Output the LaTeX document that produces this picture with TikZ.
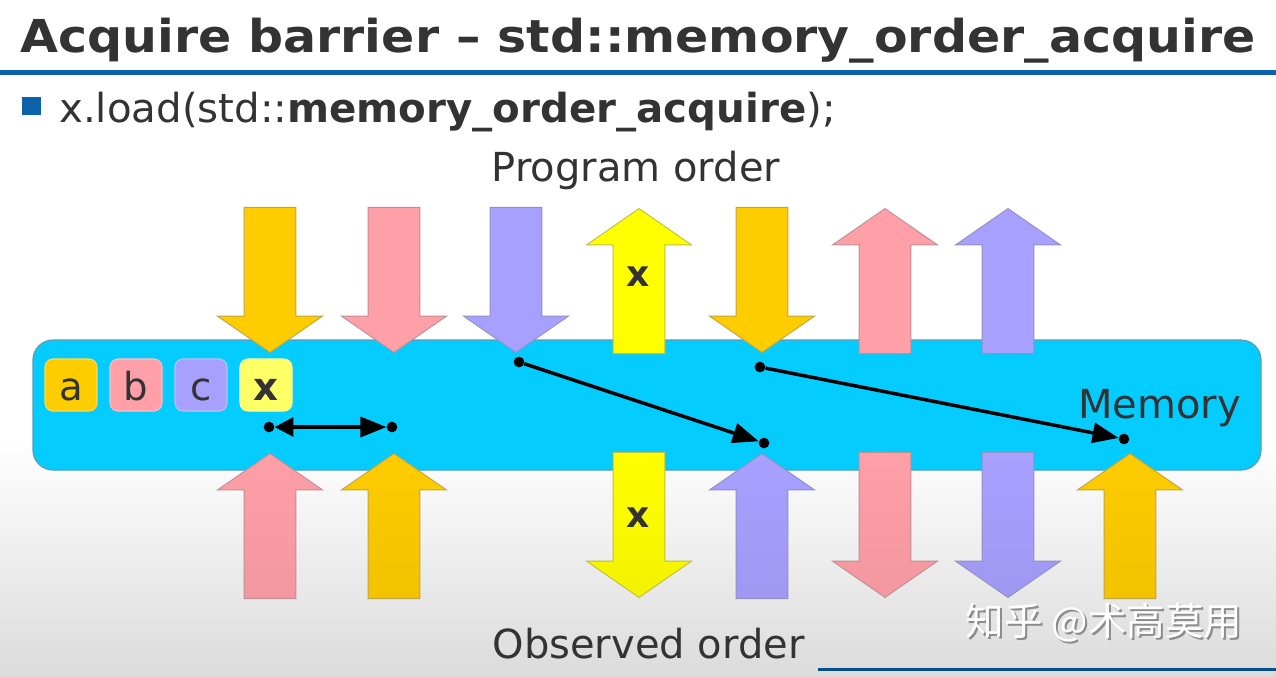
\documentclass[tikz,border=0pt]{standalone}
\usepackage{fontspec}
\setmainfont{DejaVu Sans}
\newfontfamily\cjkmark{Noto Sans CJK SC}
\usetikzlibrary{shapes.arrows,arrows.meta}
\definecolor{inkgrey}{HTML}{333333}
\definecolor{rulemain}{HTML}{0B62A8}
\definecolor{bandblue}{HTML}{04CCFF}
\definecolor{bandedge}{HTML}{5A9CB8}
\definecolor{amber}{HTML}{FFCC00}
\definecolor{rose}{HTML}{FF9FA8}
\definecolor{lilac}{HTML}{A8A0FF}
\definecolor{lemon}{HTML}{FFFF00}
\tikzset{
  barrow/.style={shape=single arrow,draw=#1!50!gray,line width=0.7pt,inner sep=19.1pt,
    minimum height=108.75pt,minimum width=78pt,single arrow head extend=19.9pt,
    single arrow head indent=0pt,single arrow tip angle=110.6,anchor=tip},
  downa/.style={barrow=#1,fill=#1,shape border rotate=270},
  upa/.style={barrow=#1,fill=#1,shape border rotate=90},
  fadedown/.style={barrow=#1,top color=#1,bottom color=#1!95!black,shape border rotate=270},
  fadeup/.style={barrow=#1,top color=#1,bottom color=#1!95!black,shape border rotate=90},
  varbox/.style={draw=#1!70!white,fill=#1,line width=0.8pt,rounded corners=6pt,
    minimum size=39pt,inner sep=0pt,text height=22.5pt,text depth=0pt,text=inkgrey,
    font=\fontsize{29pt}{29pt}\selectfont},
  dotmark/.style={circle,fill=black,inner sep=0pt,minimum size=8pt},
  order/.style={text=inkgrey,inner sep=0pt,font=\fontsize{30pt}{30pt}\selectfont},
  link/.style={line width=2.6pt,-{Triangle[length=19.5pt,width=15pt]}},
  xmark/.style={text=inkgrey,inner sep=0pt,font=\bfseries\fontsize{27pt}{27pt}\selectfont}
}
\begin{document}
\begin{tikzpicture}[x=0.75pt,y=-0.75pt]
  \useasboundingbox (0,0) rectangle (1276,676);
  % backdrop
  \fill[white] (0,0) rectangle (1276,676);
  \shade[top color=white,bottom color=black!14] (0,440) rectangle (1276,676);
  % heading
  \node[text=inkgrey,anchor=base west,inner sep=0pt,xscale=1.081,font=\bfseries\fontsize{34pt}{34pt}\selectfont] (title) at (20,52)
    {Acquire barrier – std::memory\_order\_acquire};
  \fill[rulemain] (0,69.5) rectangle (1276,75);
  \fill[rulemain] (22,97) rectangle (41,115);
  \node[text=inkgrey,anchor=base west,inner sep=0pt,xscale=1.008,font=\fontsize{30pt}{30pt}\selectfont] (call) at (59,122)
    {x.load(std::\textbf{memory\_order\_acquire});};
  \node[order,anchor=base] (program) at (636,181) {Program order};
  \node[order,anchor=base] (observed) at (648.5,658) {Observed order};
  \fill[rulemain!80!black] (818,668) rectangle (1276,670.5);
  % memory band
  \draw[draw=bandedge,fill=bandblue,line width=0.9pt,rounded corners=15pt] (33,340) rectangle (1261,470);
  \node[order,anchor=base east] (memory) at (1241,418) {Memory};
  \node[varbox=amber] (vara) at (71,385) {a};
  \node[varbox=rose] (varb) at (136,385) {b};
  \node[varbox=lilac] (varc) at (201,385) {c};
  \node[varbox=lemon!60!white] (varx) at (266,385) {\textbf{x}};
  % program order
  \node[downa=amber] (pa) at (270,353) {};
  \node[downa=rose] (pb) at (394,353) {};
  \node[downa=lilac] (pc) at (516,353) {};
  \node[upa=lemon] (px) at (639,208) {};
  \node[downa=amber] (pd) at (762,353) {};
  \node[upa=rose] (pe) at (885,208) {};
  \node[upa=lilac] (pf) at (1008,208) {};
  \node[xmark] (xtop) at (638,277) {x};
  % observed order
  \node[fadeup=rose] (oa) at (270,453) {};
  \node[fadeup=amber] (ob) at (394,453) {};
  \node[fadedown=lemon] (ox) at (639,598) {};
  \node[fadeup=lilac] (oc) at (762,453) {};
  \node[fadedown=rose] (od) at (885,598) {};
  \node[fadedown=lilac] (oe) at (1008,598) {};
  \node[fadeup=amber] (of) at (1130,453) {};
  \node[xmark] (xbot) at (638,518) {x};
  % reorderings
  \node[dotmark] (d1) at (269,427) {};
  \node[dotmark] (d2) at (392,427) {};
  \node[dotmark] (d3) at (519,362) {};
  \node[dotmark] (d4) at (764,443) {};
  \node[dotmark] (d5) at (760,367) {};
  \node[dotmark] (d6) at (1124,439) {};
  \draw[link,{Triangle[length=14pt,width=14pt]}-{Triangle[length=19.5pt,width=15pt]}] (d1) -- (d2);
  \draw[link] (d3) -- (d4);
  \draw[link] (d5) -- (d6);
  % watermark
  \node[text=black!45,inner sep=0pt,font=\cjkmark\fontsize{28.9pt}{29pt}\selectfont] (markb) at (1106,625) {知乎 @术高莫用};
  \node[text=white,inner sep=0pt,font=\cjkmark\fontsize{28.9pt}{29pt}\selectfont] (marka) at (1104,623) {知乎 @术高莫用};
\end{tikzpicture}
\end{document}
